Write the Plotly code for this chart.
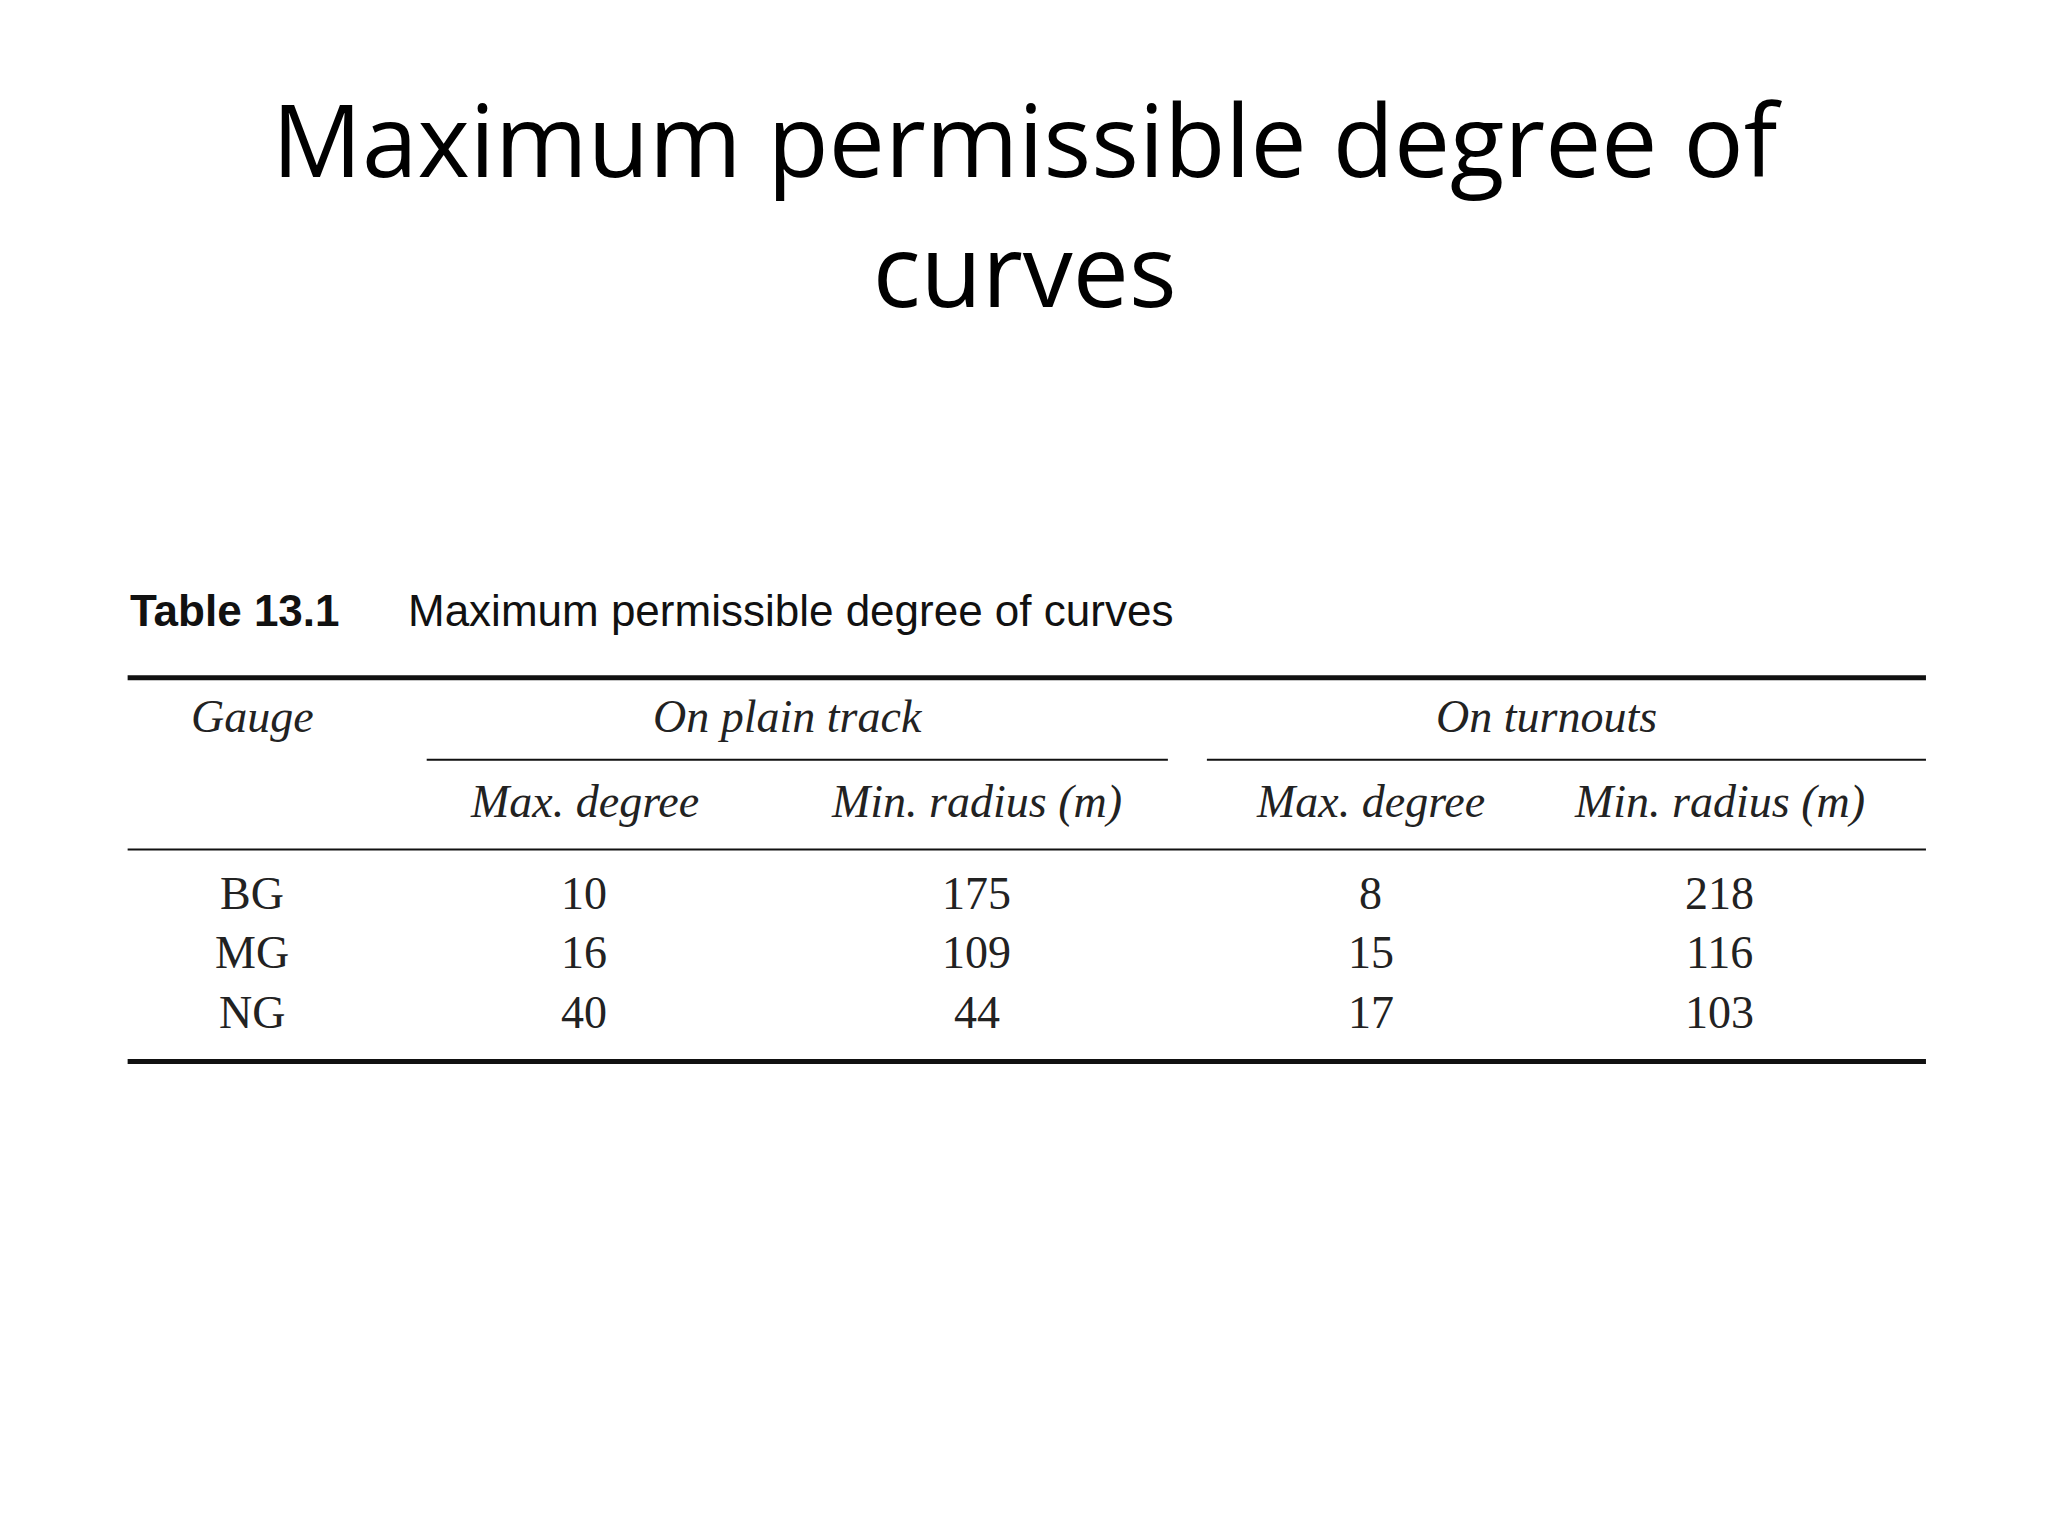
import plotly.graph_objects as go

title = "Maximum permissible degree of<br>curves"
caption_num = "Table 13.1"
caption_txt = "Maximum permissible degree of curves"
group_headers = ["On plain track", "On turnouts"]
sub_headers = ["Max. degree", "Min. radius (m)", "Max. degree", "Min. radius (m)"]
gauges = ["BG", "MG", "NG"]
plain_deg = [10, 16, 40]
plain_rad = [175, 109, 44]
turn_deg = [8, 15, 17]
turn_rad = [218, 116, 103]

W0, H0 = 1575, 1181
def px(x): return x / W0
def py(y): return 1 - y / H0

fig = go.Figure()
ann = []
shapes = []
serif = dict(family="Liberation Serif", size=46, color="#222")

def a(x, y, text, font, xanchor="center"):
    ann.append(dict(x=x, y=y, xref="paper", yref="paper", text=text, showarrow=False,
                    xanchor=xanchor, yanchor="middle", font=font))

a(px(784), py(150), title, dict(family="Open Sans", size=100, color="black"))
a(px(92), py(463), "<b>"+caption_num+"</b>", dict(family="Liberation Sans", size=44, color="#111"), "left")
a(px(306), py(463), caption_txt, dict(family="Liberation Sans", size=44, color="#111"), "left")

def line(x0, x1, y, w):
    shapes.append(dict(type="line", xref="paper", yref="paper", x0=px(x0), x1=px(x1),
                       y0=py(y), y1=py(y), line=dict(color="#111", width=w)))
line(92, 1475, 515, 5)
line(322, 892, 578, 2)
line(922, 1475, 578, 2)
line(92, 1475, 647, 2)
line(92, 1475, 810, 5)

def t(x, y, s, italic=False):
    a(px(x), py(y), ("<i>%s</i>" % s) if italic else str(s), serif)

t(188, 545, "Gauge", True)
for x, s in zip([600, 1183], group_headers):
    t(x, 545, s, True)
col_x = [443, 745, 1048, 1316]
for x, s in zip(col_x, sub_headers):
    t(x, 610, s, True)
row_y = [681, 726, 772]
for i, y in enumerate(row_y):
    t(188, y, gauges[i])
    for x, v in zip(col_x, [plain_deg[i], plain_rad[i], turn_deg[i], turn_rad[i]]):
        t(x, y, v)

fig.update_layout(width=2048, height=1536, margin=dict(l=0, r=0, t=0, b=0),
                  paper_bgcolor="white", plot_bgcolor="white",
                  xaxis=dict(visible=False), yaxis=dict(visible=False),
                  annotations=ann, shapes=shapes)
fig.write_html("out.html")
